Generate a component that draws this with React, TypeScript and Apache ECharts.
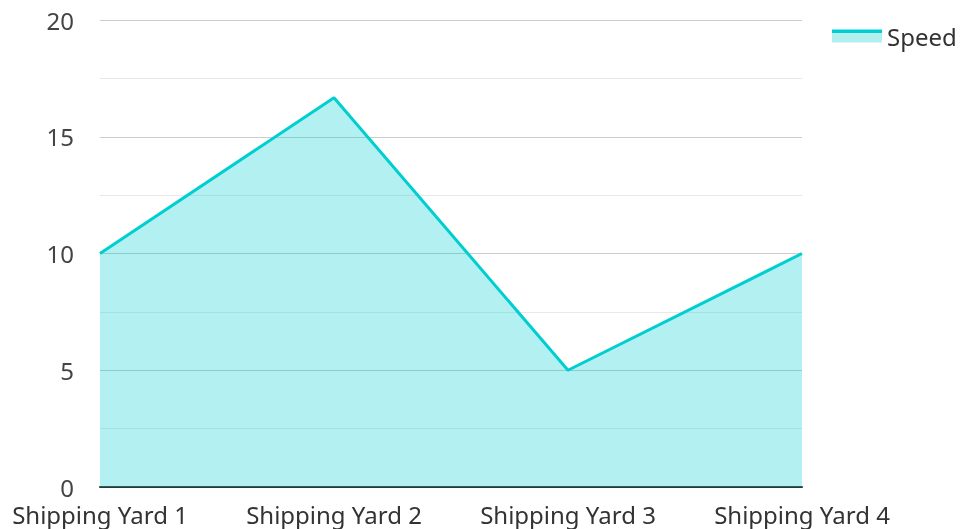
import React, { useEffect, useRef } from "react";
import * as echarts from "echarts";

const categories = ["Shipping Yard 1", "Shipping Yard 2", "Shipping Yard 3", "Shipping Yard 4"];
const speedValues = [10, 16.67, 5, 10];
const seriesName = "Speed";

export default function App() {
  const ref = useRef<HTMLDivElement>(null);
  useEffect(() => {
    if (!ref.current) return;
    const chart = echarts.init(ref.current, null, { renderer: "svg" });
    const font = "Noto Sans";
    chart.setOption({
      animation: false,
      textStyle: { fontFamily: font },
      grid: { left: 100, right: 158, top: 20, bottom: 42, containLabel: false },
      legend: {
        data: [seriesName],
        left: 827,
        top: 19,
        itemWidth: 50,
        itemHeight: 13,
        itemGap: 10,
        icon: "rect",
        textStyle: { fontSize: 24, color: "#333", fontFamily: font, padding: [0, 0, 10, 0] },
        itemStyle: {
          color: new echarts.graphic.LinearGradient(0, 0, 0, 1, [
            { offset: 0, color: "#00CED1" },
            { offset: 0.24, color: "#00CED1" },
            { offset: 0.24, color: "#b2efef" },
            { offset: 1, color: "#b2efef" },
          ]),
        },
      },
      xAxis: {
        type: "category",
        data: categories,
        boundaryGap: false,
        axisLine: { lineStyle: { color: "#333", width: 2 } },
        axisTick: { show: false },
        axisLabel: { fontSize: 24, color: "#333", margin: 15, fontFamily: font },
      },
      yAxis: {
        type: "value",
        min: 0,
        max: 20,
        interval: 5,
        axisLine: { show: false },
        axisTick: { show: false },
        axisLabel: { fontSize: 24, color: "#444", margin: 26, fontFamily: font },
        splitLine: { lineStyle: { color: "#cccccc", width: 1 } },
        minorTick: { show: false, splitNumber: 2 },
        minorSplitLine: { show: true, lineStyle: { color: "#e8e8e8", width: 1 } },
      },
      series: [
        {
          name: seriesName,
          type: "line",
          data: speedValues,
          showSymbol: false,
          symbol: "none",
          lineStyle: { color: "#00CED1", width: 3 },
          itemStyle: { color: "#00CED1" },
          areaStyle: { color: "#00CED1", opacity: 0.3 },
        },
      ],
    });
    return () => chart.dispose();
  }, []);
  return <div ref={ref} style={{ position: "fixed", left: 0, top: 0, width: 960, height: 529 }} />;
}
